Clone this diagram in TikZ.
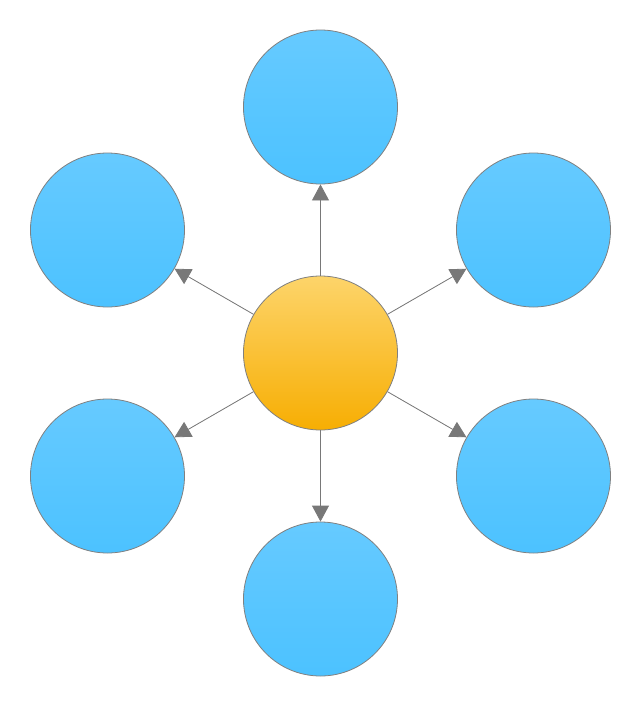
\documentclass[tikz,border=0pt]{standalone}
\usetikzlibrary{arrows.meta}
\definecolor{hubtop}{RGB}{253, 212, 106}
\definecolor{hubbot}{RGB}{247, 174, 3}
\definecolor{leaftop}{RGB}{102, 202, 255}
\definecolor{leafbot}{RGB}{76, 194, 255}
\definecolor{rimgray}{RGB}{128, 128, 128}
\definecolor{linkgray}{RGB}{120, 120, 120}
\tikzset{
  bubble/.style={circle, draw=rimgray, line width=0.8pt, minimum size=154pt, inner sep=0pt},
  leaf/.style={bubble, top color=leaftop, bottom color=leafbot},
  hub/.style={bubble, top color=hubtop, bottom color=hubbot},
  link/.style={-{Triangle[length=16pt, width=17pt]}, draw=linkgray, fill=linkgray, line width=0.8pt}
}
\begin{document}
\begin{tikzpicture}[x=1pt, y=-1pt]
  \useasboundingbox (0, 0) rectangle (640, 705);

  % Centre
  \node[hub] (center) at (320.5, 353) {};

  % Outer circles
  \node[leaf] (top) at (320.5, 107) {};
  \node[leaf] (upleft) at (107.5, 230) {};
  \node[leaf] (upright) at (533.5, 230) {};
  \node[leaf] (lowleft) at (107.5, 476) {};
  \node[leaf] (lowright) at (533.5, 476) {};
  \node[leaf] (bottom) at (320.5, 599) {};

  \foreach \n in {top, upleft, upright, lowleft, lowright, bottom}
    \draw[link] (center) -- (\n);
\end{tikzpicture}
\end{document}
